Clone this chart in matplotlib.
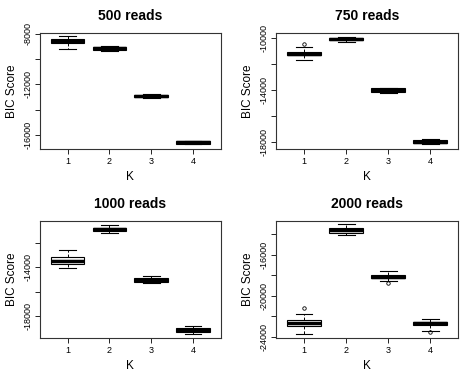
import matplotlib
matplotlib.use('Agg')
import matplotlib.pyplot as plt

plt.rcParams['font.family'] = ['Liberation Sans', 'DejaVu Sans']

# box statistics: whisker low, q1, median, q3, whisker high
titles = ['500 reads', '750 reads', '1000 reads', '2000 reads']
k_labels = ['1', '2', '3', '4']

whislo_500 = [-9203, -9359, -13046, -16706]
q1_500 = [-8758, -9307, -12993, -16680]
med_500 = [-8627, -9176, -12889, -16575]
q3_500 = [-8444, -9046, -12810, -16470]
whishi_500 = [-8209, -8967, -12732, -16444]
fliers_500 = [[], [], [], []]

whislo_750 = [-11676, -10356, -14241, -18203]
q1_750 = [-11346, -10203, -14165, -18101]
med_750 = [-11219, -10076, -14038, -18000]
q3_750 = [-11092, -9975, -13886, -17898]
whishi_750 = [-10737, -9924, -13835, -17822]
fliers_750 = [[-10483], [], [], []]

whislo_1000 = [-14083, -11131, -15297, -19490]
q1_1000 = [-13724, -10993, -15186, -19324]
med_1000 = [-13448, -10855, -14993, -19159]
q3_1000 = [-13172, -10717, -14883, -19021]
whishi_1000 = [-12593, -10469, -14717, -18828]
fliers_1000 = [[], [], [], []]

whislo_2000 = [-23675, -14114, -18537, -23447]
q1_2000 = [-22959, -13886, -18244, -22862]
med_2000 = [-22667, -13561, -18114, -22667]
q3_2000 = [-22309, -13366, -17951, -22504]
whishi_2000 = [-21724, -13041, -17593, -22276]
fliers_2000 = [[-21171], [], [-18732], [-23545]]

panels = [
    (whislo_500, q1_500, med_500, q3_500, whishi_500, fliers_500),
    (whislo_750, q1_750, med_750, q3_750, whishi_750, fliers_750),
    (whislo_1000, q1_1000, med_1000, q3_1000, whishi_1000, fliers_1000),
    (whislo_2000, q1_2000, med_2000, q3_2000, whishi_2000, fliers_2000),
]

ylims = [(-17098, -7948), (-18559, -9619), (-19821, -10138), (-24098, -12683)]
yticks = [
    [-16000, -14000, -12000, -10000, -8000],
    [-18000, -16000, -14000, -12000, -10000],
    [-18000, -16000, -14000, -12000],
    [-24000, -22000, -20000, -18000, -16000, -14000],
]
ylabels_shown = [
    [-16000, -12000, -8000],
    [-18000, -14000, -10000],
    [-18000, -14000],
    [-24000, -20000, -16000],
]

fig = plt.figure(figsize=(4.74, 3.78), dpi=100)
positions = [
    [0.0844, 0.606, 0.381, 0.307],
    [0.583, 0.606, 0.383, 0.307],
    [0.0844, 0.106, 0.381, 0.31],
    [0.583, 0.106, 0.383, 0.31],
]

for i, (lo, q1, med, q3, hi, fl) in enumerate(panels):
    ax = fig.add_axes(positions[i])
    stats = []
    for j in range(4):
        stats.append(dict(whislo=lo[j], q1=q1[j], med=med[j], q3=q3[j],
                          whishi=hi[j], fliers=fl[j], label=k_labels[j]))
    ax.bxp(stats, positions=[1, 2, 3, 4], widths=0.8, patch_artist=True,
           boxprops=dict(facecolor='white', edgecolor='black', linewidth=0.8),
           medianprops=dict(color='black', linewidth=2.5, solid_capstyle='butt'),
           whiskerprops=dict(color='black', linewidth=0.7, linestyle=(0, (3, 2))),
           capprops=dict(color='black', linewidth=0.8),
           capwidths=0.4,
           flierprops=dict(marker='o', markersize=2.5, markerfacecolor='none',
                           markeredgecolor='black', markeredgewidth=0.6))
    ax.set_xlim(0.34, 4.66)
    ax.set_ylim(*ylims[i])
    ax.set_xticks([1, 2, 3, 4])
    ax.set_xticklabels(k_labels, fontsize=6.5)
    ax.set_yticks(yticks[i])
    ax.set_yticklabels([str(v) if v in ylabels_shown[i] else '' for v in yticks[i]],
                       rotation=90, va='center', fontsize=6.5)
    ax.tick_params(length=3.5, width=0.6, pad=2)
    for s in ax.spines.values():
        s.set_linewidth(0.8)
        s.set_color('#333333')
    ax.set_title(titles[i], fontsize=10, fontweight='bold', pad=9)
    ax.set_xlabel('K', fontsize=8.5, labelpad=4)
    ax.set_ylabel('BIC Score', fontsize=8.5, labelpad=4)

fig.savefig('out.png', dpi=100)
